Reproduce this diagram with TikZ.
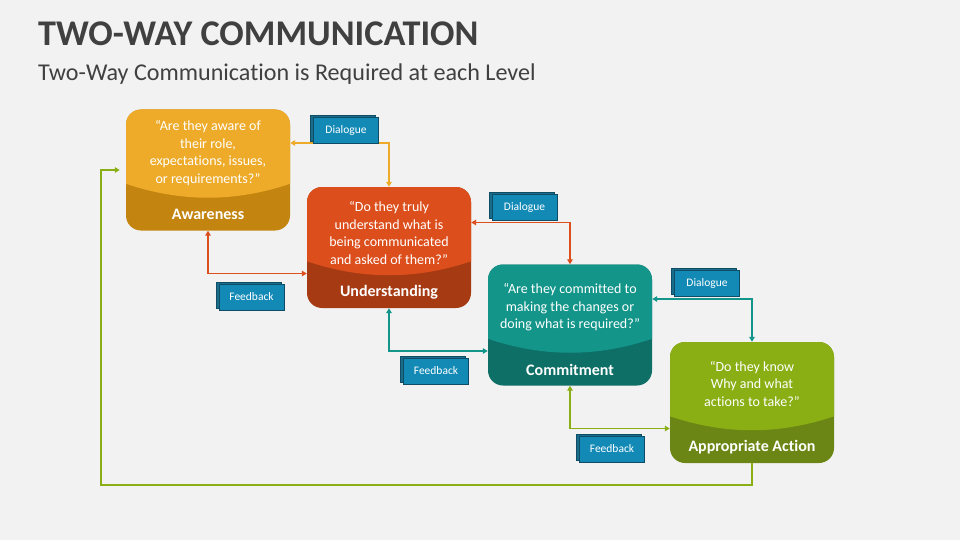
\documentclass[tikz,border=0pt]{standalone}
\usepackage{fontspec}
\setmainfont{Carlito}[Ligatures=NoCommon]
\usetikzlibrary{calc,arrows.meta,shadows}
\definecolor{bg}{HTML}{F2F2F2}
\definecolor{titlec}{HTML}{404040}
\definecolor{awL}{HTML}{EEAB2A}
\definecolor{awD}{HTML}{C3850F}
\definecolor{unL}{HTML}{DC4F1D}
\definecolor{unD}{HTML}{A63A12}
\definecolor{coL}{HTML}{13958A}
\definecolor{coD}{HTML}{0E6F66}
\definecolor{acL}{HTML}{8AAF14}
\definecolor{acD}{HTML}{6B8614}
\definecolor{lbF}{HTML}{138AB6}
\definecolor{lbB}{HTML}{0F4D66}
\definecolor{lbS}{HTML}{1A6C8B}
\tikzset{
  stage/.style 2 args={draw=none, fill=#2, rounded corners=15pt,
    minimum width=164pt, minimum height=121pt, inner sep=0pt,
    path picture={\fill[#1, sharp corners]
      ($(path picture bounding box.north west)+(-1,-1)$) --
      ($(path picture bounding box.north west)+(-1,74)$) ..
      controls ($(path picture bounding box.north west)+(55,93)$) and
               ($(path picture bounding box.north east)+(-55,93)$) ..
      ($(path picture bounding box.north east)+(1,74)$) --
      ($(path picture bounding box.north east)+(1,-1)$) -- cycle;}},
  qtext/.style={text=white, align=center, font=\fontsize{14}{17.5}\selectfont, inner sep=0pt},
  ltext/.style={text=white, font=\bfseries\fontsize{16}{19}\selectfont, inner sep=0pt},
  tag/.style={fill=lbF, draw=lbB, line width=0.8pt, text=white,
    minimum width=65pt, minimum height=26pt, inner sep=0pt,
    font=\fontsize{11.5}{13}\selectfont,
    general shadow={fill=lbS, draw=lbB, line width=0.8pt, shadow xshift=-3pt, shadow yshift=2pt}},
  conn/.style={draw=#1, line width=1.6pt, {Triangle[length=5pt,width=5.5pt]}-{Triangle[length=5pt,width=5.5pt]}},
}
\begin{document}
\begin{tikzpicture}[x=1pt,y=-1pt]
\useasboundingbox (0,0) rectangle (960,540);
\fill[bg] (0,0) rectangle (960,540);

\node[anchor=base west, text=titlec, font=\bfseries\fontsize{36.2}{40}\selectfont, inner sep=0pt] (title) at (38,46) {TWO-WAY COMMUNICATION};
\node[anchor=base west, text=titlec, font=\fontsize{24.1}{28}\selectfont, inner sep=0pt] (subtitle) at (38,81) {Two-Way Communication is Required at each Level};

\node[stage={awL}{awD}] (aw) at (208,170) {};
\node[stage={unL}{unD}] (un) at (389,247.5) {};
\node[stage={coL}{coD}] (co) at (570,325) {};
\node[stage={acL}{acD}] (ac) at (752,402.5) {};

\node[qtext] (awq) at ([yshift=-44pt]aw.north) {“Are they aware of\\their role,\\expectations, issues,\\or requirements?”};
\node[ltext] (awl) at ([yshift=16pt]aw.south) {Awareness};
\node[qtext] (unq) at ([yshift=-46pt]un.north) {“Do they truly\\understand what is\\being communicated\\and asked of them?”};
\node[ltext] (unl) at ([yshift=16pt]un.south) {Understanding};
\node[qtext] (coq) at ([yshift=-43pt]co.north) {“Are they committed to\\making the changes or\\doing what is required?”};
\node[ltext] (col) at ([yshift=16pt]co.south) {Commitment};
\node[qtext] (acq) at ([yshift=-42pt]ac.north) {“Do they know\\Why and what\\actions to take?”};
\node[ltext] (acl) at ([yshift=16pt]ac.south) {Appropriate Action};

% connectors
\draw[conn=awL] ([yshift=27pt]aw.east) -| (un.north);
\draw[conn=unL] ([yshift=25pt]un.east) -| (co.north);
\draw[conn=coL] ([yshift=26pt]co.east) -| (ac.north);
\draw[conn=unL] (aw.south) |- ([yshift=-26pt]un.west);
\draw[conn=coL] (un.south) |- ([yshift=-26pt]co.west);
\draw[conn=acL] (co.south) |- ([yshift=-26pt]ac.west);
\coordinate (lb) at (101,485);
\draw[draw=acL, line width=1.6pt, -{Triangle[length=5pt,width=5.5pt]}, shorten >=6pt] (ac.south) |- (lb) |- (aw.west);

% tags
\node[tag] (d1) at (346,130) {Dialogue};
\node[tag] (d2) at (524.5,207) {Dialogue};
\node[tag] (d3) at (707,283.5) {Dialogue};
\node[tag] (f1) at (251.5,297) {Feedback};
\node[tag] (f2) at (436,371) {Feedback};
\node[tag] (f3) at (612,449) {Feedback};
\end{tikzpicture}
\end{document}
